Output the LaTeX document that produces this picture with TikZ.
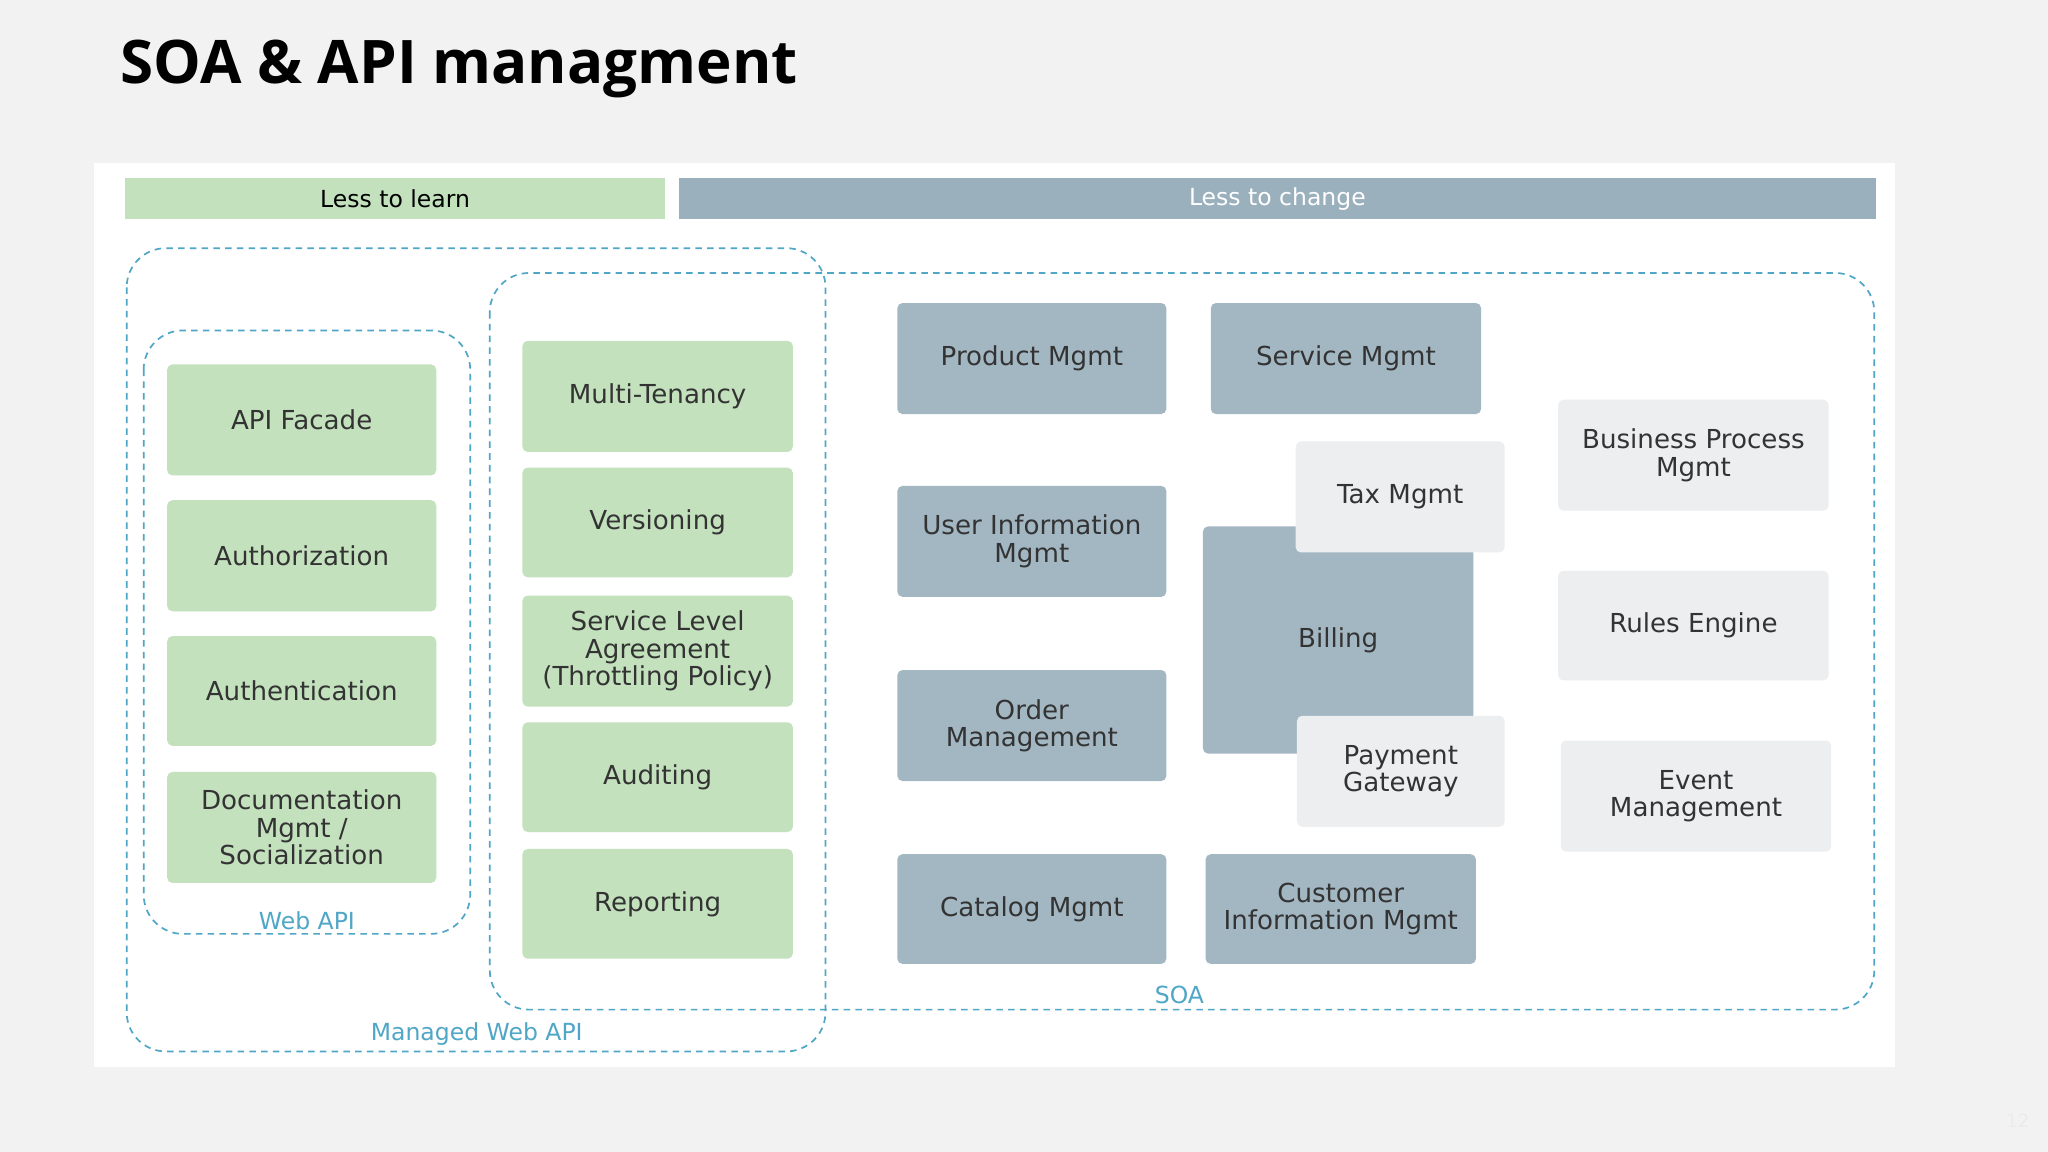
\documentclass[tikz,border=0pt]{standalone}
\usepackage{fontspec}
\setmainfont{DejaVu Sans}
\newfontfamily\titlefont{Open Sans}[UprightFont=* Bold]
\definecolor{bgc}{HTML}{F2F2F2}
\definecolor{grn}{HTML}{C3E1BD}
\definecolor{gbl}{HTML}{A3B7C3}
\definecolor{hdr}{HTML}{9AB0BD}
\definecolor{lgr}{HTML}{ECEEEF}
\definecolor{dsh}{HTML}{4FA6C6}
\definecolor{txt}{HTML}{333333}
\tikzset{
 bx/.style={rounded corners=4pt, align=center, inner sep=0pt, font=\fontsize{20}{21}\selectfont, text=txt},
 gbox/.style={bx, fill=grn},
 bbox/.style={bx, fill=gbl},
 lbox/.style={bx, fill=lgr},
 region/.style={draw=dsh, dashed, line width=1.3pt, dash pattern=on 5pt off 4pt, rounded corners=30pt},
 rlabel/.style={text=dsh, font=\fontsize{18}{18}\selectfont}
}
\newcommand{\bx}[7]{\node[#6, minimum width={(#4-#2)*1pt}, minimum height={(#5-#3)*1pt}] (#1) at ({(#2+#4)/2},{(#3+#5)/2}) {#7};}
\begin{document}
\begin{tikzpicture}[x=1pt,y=-1pt]
\fill[bgc] (0,0) rectangle (1568,882);
\useasboundingbox (0,0) rectangle (1568,882);
\node[anchor=base west, font=\titlefont\fontsize{46}{46}\selectfont, inner sep=0pt] (title) at (92,64) {SOA \& API managment};
\fill[white] (72,125) rectangle (1451,817);
\bx{h1}{96}{136}{509}{168}{bx, fill=grn, rounded corners=0pt, font=\fontsize{18}{18}\selectfont, text=black}{Less to learn}
\bx{h2}{520}{136}{1436}{168}{bx, fill=hdr, rounded corners=0pt, font=\fontsize{18}{18}\selectfont, text=white}{Less to change}
% regions
\draw[region] (375,209) rectangle (1435,773);
\draw[region] (97,190) rectangle (632,805);
\draw[region] (110,253) rectangle (360,715);
\node[rlabel] (lsoa) at (903,762) {SOA};
\node[rlabel] (lmw) at (365,792) {Managed Web API};
\node[rlabel] (lw) at (235,705) {Web API};
% green col 1
\bx{a1}{128}{279}{334}{364}{gbox}{API Facade}
\bx{a2}{128}{383}{334}{468}{gbox}{Authorization}
\bx{a3}{128}{487}{334}{571}{gbox}{Authentication}
\bx{a4}{128}{591}{334}{676}{gbox}{Documentation\\Mgmt /\\Socialization}
% green col 2
\bx{b1}{400}{261}{607}{346}{gbox}{Multi-Tenancy}
\bx{b2}{400}{358}{607}{442}{gbox}{Versioning}
\bx{b3}{400}{456}{607}{541}{gbox}{Service Level\\Agreement\\(Throttling Policy)}
\bx{b4}{400}{553}{607}{637}{gbox}{Auditing}
\bx{b5}{400}{650}{607}{734}{gbox}{Reporting}
% SOA
\bx{c1}{687}{232}{893}{317}{bbox}{Product Mgmt}
\bx{c2}{927}{232}{1134}{317}{bbox}{Service Mgmt}
\bx{c3}{687}{372}{893}{457}{bbox}{User Information\\Mgmt}
\bx{c4}{687}{513}{893}{598}{bbox}{Order\\Management}
\bx{c5}{687}{654}{893}{738}{bbox}{Catalog Mgmt}
\bx{c6}{923}{654}{1130}{738}{bbox}{Customer\\Information Mgmt}
\bx{bill}{921}{403}{1128}{577}{bbox}{Billing}
\bx{tax}{992}{338}{1152}{423}{lbox}{Tax Mgmt}
\bx{pay}{993}{548}{1152}{633}{lbox}{Payment\\Gateway}
\bx{d1}{1193}{306}{1400}{391}{lbox}{Business Process\\Mgmt}
\bx{d2}{1193}{437}{1400}{521}{lbox}{Rules Engine}
\bx{d3}{1195}{567}{1402}{652}{lbox}{Event\\Management}
\node[text=black!8, font=\fontsize{14}{14}\selectfont] (pg) at (1545,858) {12};
\end{tikzpicture}
\end{document}
